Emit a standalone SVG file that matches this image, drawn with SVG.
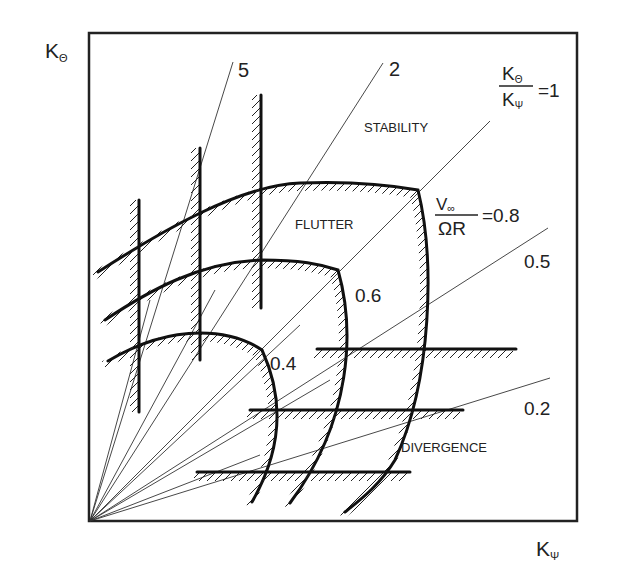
<svg xmlns="http://www.w3.org/2000/svg" width="631" height="565" viewBox="0 0 631 565">
<style>
.t{font-family:"Liberation Sans",Arial,sans-serif;fill:#222}
.ray{stroke:#333;stroke-width:0.9;fill:none}
.thick{stroke:#111;stroke-width:3;fill:none;stroke-linecap:round}
.hb{stroke:url(#hatch);stroke-width:8;fill:none}
</style>
<defs>
<pattern id="hatch" patternUnits="userSpaceOnUse" width="8" height="8">
<line x1="0" y1="8" x2="8" y2="0" stroke="#222" stroke-width="1"/>
<line x1="-1" y1="1" x2="1" y2="-1" stroke="#222" stroke-width="1"/>
<line x1="7" y1="9" x2="9" y2="7" stroke="#222" stroke-width="1"/>
</pattern>
</defs>
<rect width="631" height="565" fill="#fff"/>
<rect x="89" y="33" width="488" height="488" fill="none" stroke="#222" stroke-width="2.5"/>
<g id="rays">
<line class="ray" x1="90" y1="521" x2="233" y2="62"/>
<line class="ray" x1="90" y1="521" x2="383" y2="63"/>
<line class="ray" x1="90" y1="521" x2="490" y2="121"/>
<line class="ray" x1="90" y1="521" x2="548" y2="228"/>
<line class="ray" x1="90" y1="521" x2="550" y2="378"/>
<line class="ray" x1="90" y1="521" x2="150" y2="300"/>
<line class="ray" x1="90" y1="521" x2="215" y2="290"/>
<line class="ray" x1="90" y1="521" x2="300" y2="325"/>
<line class="ray" x1="90" y1="521" x2="330" y2="380"/>
<line class="ray" x1="90" y1="521" x2="260" y2="455"/>
</g>
<g id="curves">
<path class="hb" transform="translate(-4,4)" d="M98,272 C160,232 240,185 300,183 C350,181 390,185 418,190 C435,260 432,380 395,460 C380,485 360,500 345,512"/>
<path class="thick" d="M98,272 C160,232 240,185 300,183 C350,181 390,185 418,190 C435,260 432,380 395,460 C380,485 360,500 345,512"/>
<path class="hb" transform="translate(-4,4)" d="M105,320 C150,290 200,262 262,260 C300,260 320,264 338,270 C355,330 352,420 290,503"/>
<path class="thick" d="M105,320 C150,290 200,262 262,260 C300,260 320,264 338,270 C355,330 352,420 290,503"/>
<path class="hb" transform="translate(-4,4)" d="M108,361 C140,342 170,333 200,333 C230,333 250,342 262,350 C285,400 282,450 252,502"/>
<path class="thick" d="M108,361 C140,342 170,333 200,333 C230,333 250,342 262,350 C285,400 282,450 252,502"/>
</g>
<g id="bars">
<line class="hb" x1="134" y1="200" x2="134" y2="412"/>
<line class="thick" x1="139" y1="200" x2="139" y2="412"/>
<line class="hb" x1="195" y1="148" x2="195" y2="360"/>
<line class="thick" x1="200" y1="148" x2="200" y2="360"/>
<line class="hb" x1="256" y1="95" x2="256" y2="308"/>
<line class="thick" x1="261" y1="95" x2="261" y2="308"/>
<line class="hb" x1="314" y1="354" x2="513" y2="354"/>
<line class="thick" x1="317" y1="349" x2="516" y2="349"/>
<line class="hb" x1="247" y1="415" x2="460" y2="415"/>
<line class="thick" x1="250" y1="410" x2="463" y2="410"/>
<line class="hb" x1="194" y1="477" x2="407" y2="477"/>
<line class="thick" x1="197" y1="472" x2="410" y2="472"/>
</g>
<g id="labels">
<text class="t" x="45" y="58" font-size="21">K<tspan font-size="11" dy="4">Θ</tspan></text>
<text class="t" x="536" y="556" font-size="21">K<tspan font-size="11" dy="4">Ψ</tspan></text>
<text class="t" x="238" y="77" font-size="20">5</text>
<text class="t" x="389" y="76" font-size="20">2</text>
<text class="t" x="502" y="80" font-size="19">K<tspan font-size="10" dy="3">Θ</tspan></text>
<line x1="499" y1="86" x2="533" y2="86" stroke="#222" stroke-width="1.5"/>
<text class="t" x="502" y="106" font-size="19">K<tspan font-size="10" dy="3">Ψ</tspan></text>
<text class="t" x="538" y="97" font-size="19">=1</text>
<text class="t" x="364" y="132" font-size="13">STABILITY</text>
<text class="t" x="295" y="229" font-size="13">FLUTTER</text>
<text class="t" x="436" y="210" font-size="17">V<tspan font-size="11" dy="2">∞</tspan></text>
<line x1="435" y1="215" x2="478" y2="215" stroke="#222" stroke-width="1.5"/>
<text class="t" x="438" y="235" font-size="19">ΩR</text>
<text class="t" x="482" y="222" font-size="19">=0.8</text>
<text class="t" x="524" y="268" font-size="19">0.5</text>
<text class="t" x="355" y="302" font-size="19">0.6</text>
<text class="t" x="270" y="370" font-size="19">0.4</text>
<text class="t" x="524" y="415" font-size="19">0.2</text>
<text class="t" x="401" y="452" font-size="13">DIVERGENCE</text>
</g>
</svg>
